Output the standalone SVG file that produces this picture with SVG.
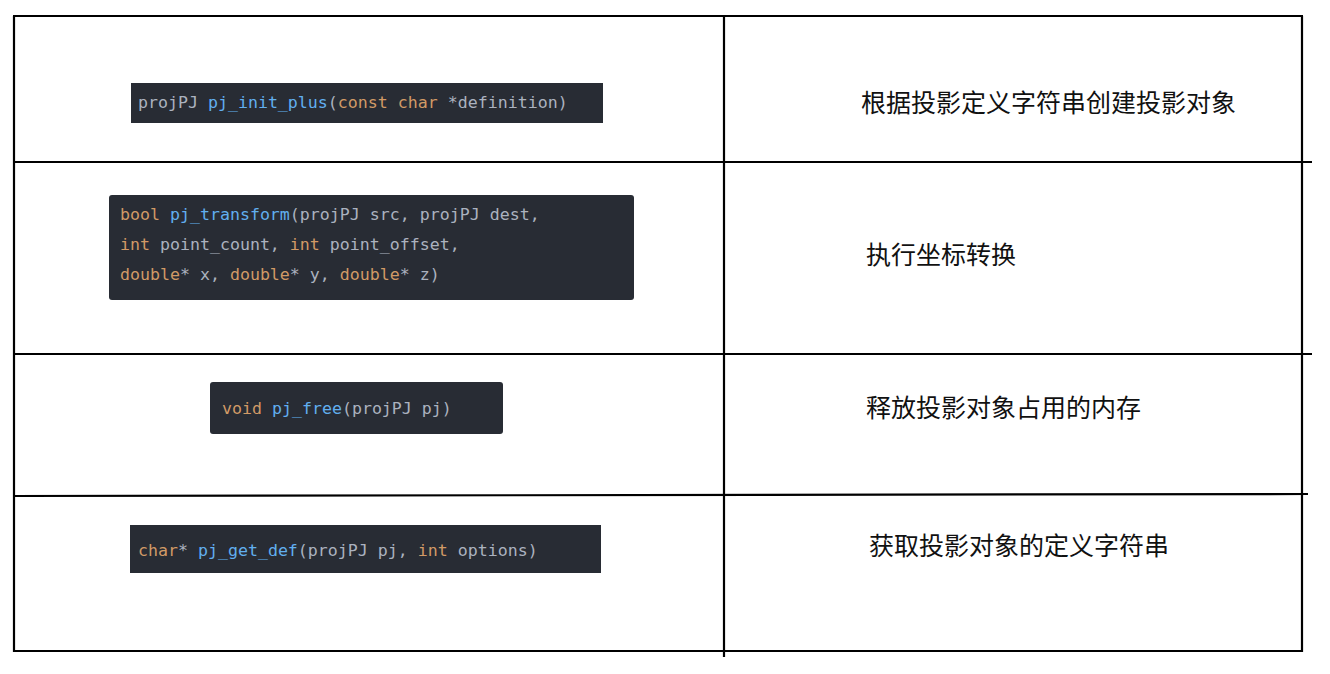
<svg xmlns="http://www.w3.org/2000/svg" width="1330" height="674" viewBox="0 0 1330 674">
<style>
.ln{stroke:#000;stroke-width:2.2;fill:none}
.box{fill:#282c34}
.code{font-family:"DejaVu Sans Mono","Liberation Mono",monospace;font-size:16.6px;fill:#abb2bf}
.k{fill:#d19a66}.f{fill:#61afef}
.zh{font-family:"Noto Sans CJK SC",sans-serif;font-size:25px;fill:#111}
</style>
<rect width="1330" height="674" fill="#fff"/>
<g id="grid">
<line class="ln" x1="13" y1="16" x2="1303" y2="16"/>
<line class="ln" x1="14" y1="16" x2="14" y2="652"/>
<line class="ln" x1="724" y1="16" x2="724" y2="657"/>
<line class="ln" x1="1302" y1="16" x2="1302" y2="652"/>
<line class="ln" x1="13" y1="162" x2="1312" y2="162"/>
<line class="ln" x1="13" y1="354" x2="1312" y2="354"/>
<line class="ln" x1="13" y1="496" x2="1308" y2="494"/>
<line class="ln" x1="13" y1="651" x2="1303" y2="651"/>
</g>
<g id="r1">
<rect class="box" x="131" y="83" width="472" height="40"/>
<text class="code" x="138" y="108">projPJ <tspan class="f">pj_init_plus</tspan>(<tspan class="k">const</tspan> <tspan class="k">char</tspan> *definition)</text>
<text class="zh" x="861" y="112">根据投影定义字符串创建投影对象</text>
</g>
<g id="r2">
<rect class="box" x="109" y="195" width="525" height="105" rx="3"/>
<text class="code" x="120" y="220"><tspan class="k">bool</tspan> <tspan class="f">pj_transform</tspan>(projPJ src, projPJ dest,</text>
<text class="code" x="120" y="250"><tspan class="k">int</tspan> point_count, <tspan class="k">int</tspan> point_offset,</text>
<text class="code" x="120" y="280"><tspan class="k">double</tspan>* x, <tspan class="k">double</tspan>* y, <tspan class="k">double</tspan>* z)</text>
<text class="zh" x="866" y="264">执行坐标转换</text>
</g>
<g id="r3">
<rect class="box" x="210" y="382" width="293" height="52" rx="3"/>
<text class="code" x="222" y="414"><tspan class="k">void</tspan> <tspan class="f">pj_free</tspan>(projPJ pj)</text>
<text class="zh" x="866" y="417">释放投影对象占用的内存</text>
</g>
<g id="r4">
<rect class="box" x="130" y="525" width="471" height="48"/>
<text class="code" x="138" y="556"><tspan class="k">char</tspan>* <tspan class="f">pj_get_def</tspan>(projPJ pj, <tspan class="k">int</tspan> options)</text>
<text class="zh" x="869" y="555">获取投影对象的定义字符串</text>
</g>
</svg>
